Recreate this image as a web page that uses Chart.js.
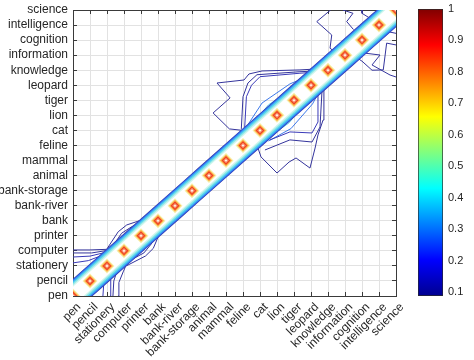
<!DOCTYPE html>
<html><head><meta charset="utf-8">
<script src="https://cdn.jsdelivr.net/npm/chart.js@4/dist/chart.umd.min.js"></script>
<style>
html,body{margin:0;padding:0;background:#fff;}
#wrap{position:relative;width:474px;height:360px;overflow:hidden;}
#main{position:absolute;left:0;top:0;}
#cbar{position:absolute;left:400px;top:0;}
</style></head><body>
<div id="wrap">
<canvas id="main" width="474" height="360"></canvas>
<canvas id="cbar" width="74" height="360"></canvas>
</div>
<script>
// ---------- data ----------
const categories = ['pen','pencil','stationery','computer','printer','bank','bank-river','bank-storage','animal','mammal','feline','cat','lion','tiger','leopard','knowledge','information','cognition','intelligence','science'];
const tickPositions = categories.map((_, k) => k + 1);
const selfSimilarity = categories.map(() => 1);
const colorbarTicks = [0.1,0.2,0.3,0.4,0.5,0.6,0.7,0.8,0.9,1];
const colorbarMin = 0.087;
const colorbarMax = 1;

// contour traces, in category-index units [x, y]
const stationeryLeft1 = [[1,4.06],[2,4.06],[2.98,4.1],[3.66,5.27],[4.16,5.72],[5.04,6.05]];
const stationeryLeft2 = [[1,3.86],[2.1,3.86],[3.18,4.06],[3.86,5.17],[4.45,5.6],[5.12,5.94]];
const stationeryLeft3 = [[1,3.59],[2,3.65],[3.1,3.95],[3.95,5.0],[4.6,5.45],[5.2,5.85]];
const stationeryLeft4 = [[1,3.2],[1.9,3.35],[3.05,3.85],[4.0,4.9],[4.7,5.3],[5.3,5.75]];
const stationeryLow1 = [[3.65,1],[3.7,1.9],[3.95,2.6],[4.1,2.98],[5.27,3.66],[5.72,4.16],[6.05,5.04]];
const stationeryLow2 = [[3.35,1],[3.4,2.0],[3.6,2.7],[4.06,3.18],[5.17,3.86],[5.6,4.45],[5.94,5.12]];
const stationeryLow3 = [[3.18,1],[3.22,2.1],[3.45,2.85],[3.95,3.1],[5.0,3.95],[5.45,4.6],[5.85,5.2]];
const stationeryLow4 = [[2.76,1],[2.82,2.0],[3.06,2.7],[3.85,3.05],[4.9,4.0],[5.3,4.7],[5.75,5.3]];
const animalUpper1 = [[11.0,12.0],[10.2,12.1],[9.24,13.16],[10.24,14.16],[9.47,15.15],[11.06,15.35],[11.35,15.75],[12.12,15.95],[14.35,16.02],[16.41,16.15]];
const animalUpper2 = [[10.9,12.1],[11.0,14.24],[11.29,15.15],[11.82,15.7],[14.35,15.9],[16.4,16.0]];
const animalUpper3 = [[11.1,12.2],[11.2,14.24],[11.5,15.0],[12.0,15.57],[14.35,15.8],[16.3,15.95]];
const animalUpper4 = [[11.3,12.4],[12.12,13.82],[13.76,15.09],[15.41,15.88]];
const animalUpper5 = [[11.6,12.5],[12.5,13.7],[14.06,14.85],[15.53,15.7]];
const animalLower1 = [[11.88,10.83],[12.06,10.24],[13.0,9.17],[13.71,9.9],[14.12,10.17],[14.94,9.5],[15.24,10.83],[15.41,11.7],[15.71,12.69],[15.76,14.69],[16.12,15.88]];
const animalLower2 = [[12.29,10.7],[13.76,11.37],[15.06,11.23],[15.53,12.23],[15.65,14.69],[15.88,15.68]];
const animalLower3 = [[12.59,11.37],[13.76,11.9],[15.06,11.83],[15.41,12.56],[15.41,14.69],[15.76,15.49]];
const animalLower4 = [[12.5,11.3],[13.82,12.12],[15.09,13.76],[15.88,15.41]];
const animalLower5 = [[12.6,11.6],[13.7,12.5],[14.85,14.06],[15.7,15.53]];
const scienceUpper1 = [[16.15,20],[15.34,19.23],[16.22,18.34],[16.12,17.46],[16.51,17.13],[17.0,17.2]];
const scienceUpper2 = [[16.88,20],[17.47,19.78],[17.1,19.23],[17.5,18.7]];
const scienceUpper3 = [[18.0,20],[18.0,19.78],[18.4,19.5]];
const scienceLower1 = [[20,15.55],[19.65,15.68],[18.59,16.35],[19.06,17.01],[18.06,17.15]];
const scienceLower2 = [[20,17.68],[19.45,17.8],[19.25,16.02],[18.59,16.0],[18.0,16.6],[17.6,16.9]];
const scienceLower3 = [[20,18.45],[19.06,18.67],[18.8,18.3]];

// ---------- styles ----------
const FONT = "'Liberation Sans', Arial, Helvetica, sans-serif";
const TXT = '#262626';
const NAVY = '#34349c';
const contourSets = [
  [stationeryLeft1, NAVY],[stationeryLeft2, NAVY],[stationeryLeft3, '#3a3ab8'],[stationeryLeft4, '#3a3ab8'],
  [stationeryLow1, NAVY],[stationeryLow2, NAVY],[stationeryLow3, '#3a3ab8'],[stationeryLow4, '#3a3ab8'],
  [animalUpper1, NAVY],[animalUpper2, NAVY],[animalUpper3, '#3a3ab8'],[animalUpper4, '#3c78ea'],[animalUpper5, '#44c8e8'],
  [animalLower1, NAVY],[animalLower2, NAVY],[animalLower3, '#3a3ab8'],[animalLower4, '#3c78ea'],[animalLower5, '#44c8e8'],
  [scienceUpper1, NAVY],[scienceUpper2, NAVY],[scienceUpper3, NAVY],
  [scienceLower1, NAVY],[scienceLower2, NAVY],[scienceLower3, NAVY]
];
const bandLayers = [
  {w:26, c:'#3a3aa0'},{w:25, c:'#2e5ee8'},{w:23.5, c:'#3c9af2'},{w:21.5, c:'#4ed0f0'},
  {w:19, c:'#92e8e6'},{w:16.5, c:'#d0f6ee'},{w:14, c:'#ffffff'}
];
const diamondLayers = [{r:7.5,c:'#f6f0a8'},{r:6,c:'#ffb048'},{r:4.5,c:'#ee4224'},{r:2.8,c:'#f8906c'},{r:1.3,c:'#fff2f0'}];

const diagPoints = tickPositions.map((p, k) => ({x: p, y: p, v: selfSimilarity[k]}));
const datasets = [];
diamondLayers.forEach((d, k) => {
  datasets.push({data: diagPoints, showLine: false, pointStyle: 'rectRot', pointRadius: d.r,
    pointBackgroundColor: d.c, pointBorderWidth: 0, clip: 0, order: 10 - k});
});
bandLayers.forEach((b, k) => {
  datasets.push({data: diagPoints, showLine: true, pointRadius: 0, borderWidth: b.w, borderColor: b.c,
    borderCapStyle: 'butt', clip: 0, order: 20 + (bandLayers.length - k)});
});
contourSets.forEach(([arr, col], k) => {
  datasets.push({data: arr.map(p => ({x: p[0], y: p[1]})), showLine: true, pointRadius: 0,
    borderWidth: 1, borderColor: col, clip: 0, order: 100 + k});
});

const setTicks = s => { s.ticks = tickPositions.map(v => ({value: v})); };
const gridCommon = {color: '#e2e2e2', tickColor: '#3a3a3a', tickLength: -4, lineWidth: 1};
const noPadH = s => { s.paddingLeft = 0; s.paddingRight = 0; };
const noPadV = s => { s.paddingTop = 0; s.paddingBottom = 0; };

new Chart(document.getElementById('main'), {
  type: 'scatter',
  data: {datasets},
  options: {
    responsive: false, animation: false, devicePixelRatio: 1,
    layout: {padding: {left: 0, right: 78, top: 10, bottom: 0}},
    plugins: {legend: {display: false}, tooltip: {enabled: false}},
    elements: {line: {tension: 0}},
    scales: {
      x: {type: 'linear', position: 'bottom', min: 1, max: 20, afterBuildTicks: setTicks,
        afterFit: s => { s.height = 64; noPadH(s); },
        ticks: {autoSkip: false, maxRotation: 45, minRotation: 45, padding: 8, labelOffset: 6, color: TXT,
          font: {family: FONT, size: 12}, callback: v => categories[v - 1]},
        grid: gridCommon, border: {color: '#3a3a3a', width: 1}},
      x2: {type: 'linear', position: 'top', min: 1, max: 20, afterBuildTicks: setTicks,
        afterFit: s => { s.height = 0; noPadH(s); },
        ticks: {display: false}, grid: Object.assign({}, gridCommon, {drawOnChartArea: false}),
        border: {color: '#3a3a3a', width: 1}},
      y: {type: 'linear', position: 'left', min: 1, max: 20, afterBuildTicks: setTicks,
        afterFit: s => { s.width = 73; noPadV(s); },
        ticks: {autoSkip: false, padding: 9, color: TXT, font: {family: FONT, size: 12},
          callback: v => categories[v - 1]},
        grid: gridCommon, border: {color: '#3a3a3a', width: 1}},
      y2: {type: 'linear', position: 'right', min: 1, max: 20, afterBuildTicks: setTicks,
        afterFit: s => { s.width = 0; noPadV(s); },
        ticks: {display: false}, grid: Object.assign({}, gridCommon, {drawOnChartArea: false}),
        border: {color: '#3a3a3a', width: 1}}
    }
  }
});

// ---------- colorbar ----------
function jetGradient(ctx) {
  const chart = ctx.chart; const a = chart.chartArea;
  if (!a) return '#00f';
  const g = chart.ctx.createLinearGradient(0, a.bottom, 0, a.top);
  g.addColorStop(0, '#00008f'); g.addColorStop(0.125, '#0000ff'); g.addColorStop(0.375, '#00ffff');
  g.addColorStop(0.625, '#ffff00'); g.addColorStop(0.875, '#ff0000'); g.addColorStop(1, '#800000');
  return g;
}
new Chart(document.getElementById('cbar'), {
  type: 'bar',
  data: {labels: ['colormap'], datasets: [{data: [[colorbarMin, colorbarMax]], backgroundColor: jetGradient,
    borderColor: '#2a2a2a', borderWidth: 1, borderSkipped: false, barPercentage: 1, categoryPercentage: 1}]},
  options: {
    responsive: false, animation: false, devicePixelRatio: 1,
    layout: {padding: {left: 18, right: 0, top: 9, bottom: 64}},
    plugins: {legend: {display: false}, tooltip: {enabled: false}},
    scales: {
      x: {display: false},
      y: {position: 'right', min: colorbarMin, max: colorbarMax,
        afterBuildTicks: s => { s.ticks = colorbarTicks.map(v => ({value: v})); },
        afterFit: s => { s.width = 31; s.paddingTop = 0; s.paddingBottom = 0; },
        ticks: {padding: 8, color: TXT, font: {family: FONT, size: 11}, callback: v => String(v)},
        grid: {drawOnChartArea: false, tickLength: -3, color: '#3a3a3a'},
        border: {display: false}}
    }
  }
});
</script>
</body></html>
